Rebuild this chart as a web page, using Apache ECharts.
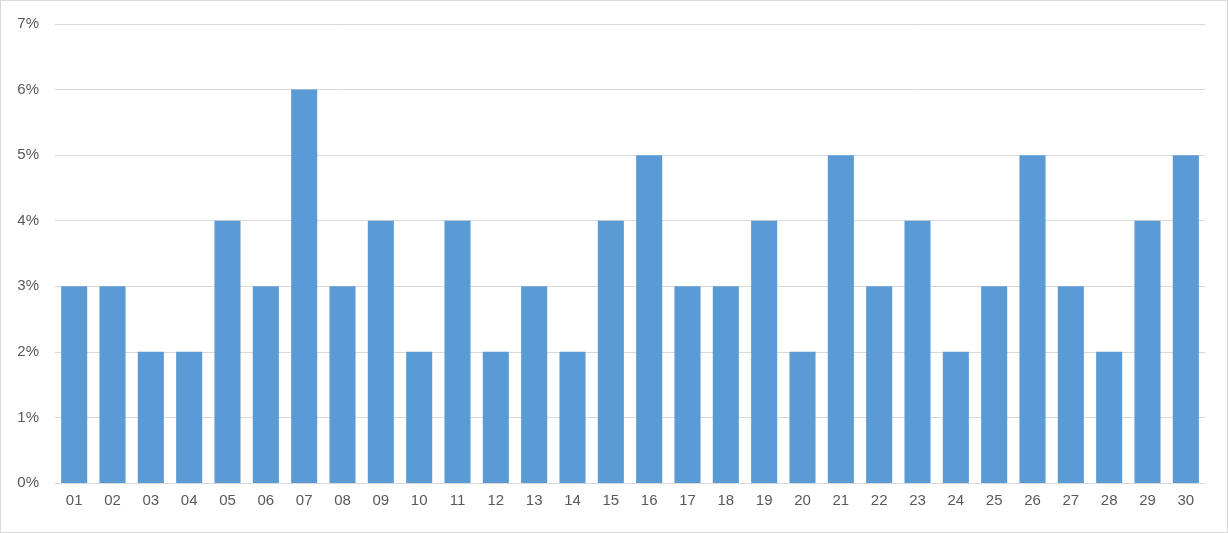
<!DOCTYPE html>
<html><head><meta charset="utf-8">
<script src="https://cdn.jsdelivr.net/npm/echarts@6/dist/echarts.min.js"></script>
<style>html,body{margin:0;padding:0;background:#fff}#c{width:1226px;height:531px;border:1px solid #d9d9d9}</style>
</head><body><div id="c"></div>
<script>
const categories = ['01','02','03','04','05','06','07','08','09','10','11','12','13','14','15','16','17','18','19','20','21','22','23','24','25','26','27','28','29','30'];
const values = [3,3,2,2,4,3,6,3,4,2,4,2,3,2,4,5,3,3,4,2,5,3,4,2,3,5,3,2,4,5];
const chart = echarts.init(document.getElementById('c'));
chart.setOption({
  animation:false,
  grid:{left:54,right:22,top:23,bottom:49},
  xAxis:{type:'category',data:categories,
    axisLine:{lineStyle:{color:'#d9d9d9'}},axisTick:{show:false},
    axisLabel:{color:'#595959',fontSize:15,fontFamily:'Liberation Sans, Arial',margin:10}},
  yAxis:{type:'value',min:0,max:7,interval:1,
    axisLabel:{color:'#595959',fontSize:15,fontFamily:'Liberation Sans, Arial',formatter:'{value}%',margin:16},
    splitLine:{lineStyle:{color:'#d9d9d9'}},axisLine:{show:false},axisTick:{show:false}},
  series:[{type:'bar',data:values,barCategoryGap:'32%',itemStyle:{color:'#5B9BD5'}}]
});
</script></body></html>
